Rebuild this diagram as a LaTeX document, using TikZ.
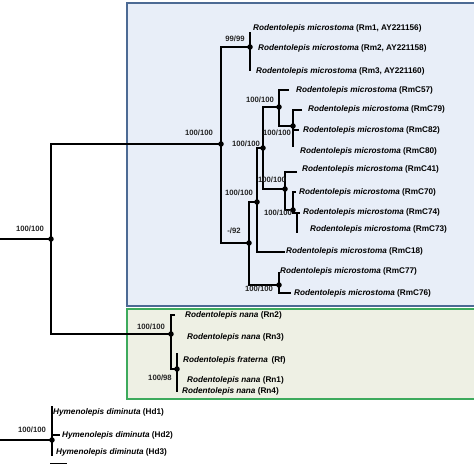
\documentclass[tikz,border=0pt]{standalone}
\usepackage{fontspec}
\setmainfont{Liberation Sans}
\definecolor{bluefill}{HTML}{E8EEF8}
\definecolor{blueline}{HTML}{4C6A94}
\definecolor{greenfill}{HTML}{EEF0E4}
\definecolor{greenline}{HTML}{3DAA5C}
\begin{document}
\begin{tikzpicture}[x=1pt,y=-1pt,
  tree/.style={line width=1.8pt},
  dot/.style={circle,fill=black,inner sep=0pt,minimum size=5.5pt},
  leaf/.style={anchor=west,inner sep=0pt,font=\fontsize{8.2}{9}\selectfont\bfseries},
  bs/.style={inner sep=0pt,font=\fontsize{7.7}{8}\selectfont\bfseries,text=black!85}]
\useasboundingbox (0,0) rectangle (474,474);
\fill[white] (0,0) rectangle (474,474);
% clade boxes
\filldraw[fill=bluefill,draw=blueline,line width=1.5pt] (127,3) rectangle (490,306);
\filldraw[fill=greenfill,draw=greenline,line width=1.5pt] (127,309) rectangle (490,399);
% internal nodes
\node[dot] (R) at (51,239) {};
\node[dot] (M) at (221,144) {};
\node[dot] (H) at (171,334) {};
\node[dot] (N) at (250,47) {};
\node[dot] (X) at (249,243) {};
\node[dot] (D) at (257,202) {};
\node[dot] (A) at (263,148) {};
\node[dot] (B) at (279,107) {};
\node[dot] (C) at (293,126) {};
\node[dot] (E) at (285,189) {};
\node[dot] (F) at (293,210) {};
\node[dot] (Y) at (279,285) {};
\node[dot] (I) at (177,369) {};
\node[dot] (O) at (52,440) {};
\coordinate (G) at (297,213);
% tips
\coordinate (r0) at (0,239);
\coordinate (o0) at (0,440);
\coordinate (n1) at (250,32);
\coordinate (n3) at (250,71);
\coordinate (t57) at (289,90);
\coordinate (t79) at (302,110);
\coordinate (c82) at (293,130);
\coordinate (t82) at (299,130);
\coordinate (t80) at (293,147);
\coordinate (t41) at (297,172);
\coordinate (t70) at (296,192);
\coordinate (t74) at (300,213);
\coordinate (t73) at (297,233);
\coordinate (t18) at (285,252);
\coordinate (t77) at (279,272);
\coordinate (t76) at (291,293);
\coordinate (tn2) at (175,315);
\coordinate (tf) at (177,353);
\coordinate (tn4) at (177,392);
\coordinate (h1) at (52,406);
\coordinate (h2a) at (52,435);
\coordinate (h2) at (60,435);
\coordinate (h3) at (52,456);
\coordinate (sb1) at (50,463);
\coordinate (sb2) at (67,463);
% branches
\draw[tree] (r0) -- (R.center);
\draw[tree] (M.center) -| (R.center) |- (H.center);
\draw[tree] (N.center) -| (M.center) |- (X.center);
\draw[tree] (n1) -- (n3);
\draw[tree] (D.center) -| (X.center) |- (Y.center);
\draw[tree] (A.center) -| (D.center) |- (t18);
\draw[tree] (B.center) -| (A.center) |- (E.center);
\draw[tree] (t57) -| (B.center) |- (C.center);
\draw[tree] (t79) -| (C.center) |- (t80);
\draw[tree] (c82) -- (t82);
\draw[tree] (t41) -| (E.center) |- (F.center);
\draw[tree] (t70) -| (F.center) |- (G);
\draw[tree] (G) -- (t73);
\draw[tree] (G) -- (t74);
\draw[tree] (t77) -- (Y.center) |- (t76);
\draw[tree] (tn2) -| (H.center) |- (I.center);
\draw[tree] (tf) -- (tn4);
\draw[tree] (o0) -- (O.center);
\draw[tree] (h1) -- (h3);
\draw[tree] (h2a) -- (h2);
\draw[line width=1pt] (sb1) -- (sb2);
% support labels
\node[bs] (lR) at (30,229) {100/100};
\node[bs] (lM) at (199,133) {100/100};
\node[bs] (lH) at (151,327) {100/100};
\node[bs] (lN) at (235,39) {99/99};
\node[bs] (lX) at (234,231) {-/92};
\node[bs] (lD) at (239,193) {100/100};
\node[bs] (lA) at (246,144) {100/100};
\node[bs] (lB) at (260,100) {100/100};
\node[bs] (lC) at (277,133) {100/100};
\node[bs] (lE) at (272,180) {100/100};
\node[bs] (lF) at (278,213) {100/100};
\node[bs] (lY) at (259,289) {100/100};
\node[bs] (lI) at (160,378) {100/98};
\node[bs] (lO) at (32,430) {100/100};
% leaf labels
\node[leaf] (Rm1) at (253,28) {\textit{Rodentolepis microstoma} (Rm1, AY221156)};
\node[leaf] (Rm2) at (258,48) {\textit{Rodentolepis microstoma} (Rm2, AY221158)};
\node[leaf] (Rm3) at (256,71) {\textit{Rodentolepis microstoma} (Rm3, AY221160)};
\node[leaf] (C57) at (296,90) {\textit{Rodentolepis microstoma} (RmC57)};
\node[leaf] (C79) at (308,109) {\textit{Rodentolepis microstoma} (RmC79)};
\node[leaf] (C82) at (303,130) {\textit{Rodentolepis microstoma} (RmC82)};
\node[leaf] (C80) at (300,151) {\textit{Rodentolepis microstoma} (RmC80)};
\node[leaf] (C41) at (302,169) {\textit{Rodentolepis microstoma} (RmC41)};
\node[leaf] (C70) at (299,192) {\textit{Rodentolepis microstoma} (RmC70)};
\node[leaf] (C74) at (303,212) {\textit{Rodentolepis microstoma} (RmC74)};
\node[leaf] (C73) at (310,229) {\textit{Rodentolepis microstoma} (RmC73)};
\node[leaf] (C18) at (286,251) {\textit{Rodentolepis microstoma} (RmC18)};
\node[leaf] (C77) at (280,271) {\textit{Rodentolepis microstoma} (RmC77)};
\node[leaf] (C76) at (294,293) {\textit{Rodentolepis microstoma} (RmC76)};
\node[leaf] (Rn2) at (185,315) {\textit{Rodentolepis nana} (Rn2)};
\node[leaf] (Rn3) at (187,337) {\textit{Rodentolepis nana} (Rn3)};
\node[leaf] (Rf) at (183,360) {\textit{Rodentolepis fraterna}\, (Rf)};
\node[leaf] (Rn1) at (187,380) {\textit{Rodentolepis nana} (Rn1)};
\node[leaf] (Rn4) at (182,391) {\textit{Rodentolepis nana} (Rn4)};
\node[leaf] (Hd1) at (53,412) {\textit{Hymenolepis diminuta} (Hd1)};
\node[leaf] (Hd2) at (62,435) {\textit{Hymenolepis diminuta} (Hd2)};
\node[leaf] (Hd3) at (56,452) {\textit{Hymenolepis diminuta} (Hd3)};
\end{tikzpicture}
\end{document}
